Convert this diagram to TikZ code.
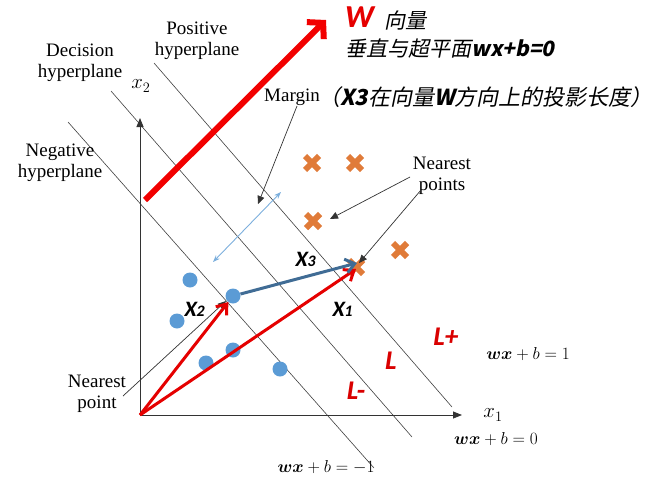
\documentclass[tikz,border=0pt]{standalone}
\usepackage{amsmath}
\usepackage{fontspec}
\setmainfont{Liberation Serif}
\newfontfamily\cjk[FakeSlant=0.2]{Noto Sans CJK SC}
\newfontfamily\lab[FakeSlant=0.15]{Carlito}
\usetikzlibrary{arrows.meta}
\definecolor{dotc}{HTML}{5B9BD5}
\definecolor{crossc}{HTML}{E07B39}
\begin{document}
\begin{tikzpicture}[x=1pt,y=-1pt,
  hyp/.style={draw=black!75,line width=0.6pt},
  txt/.style={font=\fontsize{19}{21}\selectfont,align=center,inner sep=0pt},
  eq/.style={font=\fontsize{19}{21}\selectfont,inner sep=0pt},
  redvec/.style={draw=red!90!black,line width=3pt,-{Straight Barb[length=9pt,width=14pt]}},
  bluevec/.style={draw=dotc!70!black,line width=3pt,-{Straight Barb[length=9pt,width=14pt]}},
  ptr/.style={draw=black!80,line width=0.7pt,-{Triangle[length=8pt,width=7pt]}},
  dot/.style={circle,fill=dotc,draw=none,minimum size=15pt,inner sep=0pt},
  cross/.style={inner sep=0pt,minimum size=1pt},
  vlab/.style={font=\fontsize{22}{22}\lab\bfseries,inner sep=0pt},
  rlab/.style={font=\fontsize{27}{27}\lab\bfseries,text=red!85!black,inner sep=0pt},
  cn/.style={font=\fontsize{21}{24}\cjk,inner sep=0pt,anchor=west}]
\useasboundingbox (0,0) rectangle (672,482);
% hyperplanes
\coordinate (n1) at (68,122); \coordinate (n2) at (374,468);
\coordinate (d1) at (111,91); \coordinate (d2) at (412,437);
\coordinate (p1) at (154,63); \coordinate (p2) at (452,407);
\draw[hyp] (n1) -- (n2);
\draw[hyp] (d1) -- (d2);
\draw[hyp] (p1) -- (p2);
% axes
\coordinate (O) at (140,415);
\coordinate (ytop) at (140,118);
\coordinate (xend) at (462,415);
\draw[black!80,line width=0.8pt,-{Triangle[length=9pt,width=7pt]}] (O) -- (ytop);
\draw[black!80,line width=0.8pt,-{Triangle[length=9pt,width=7pt]}] (O) -- (xend);
\node[font=\fontsize{22}{22}\selectfont] (x2) at (141,86) {$x_2$};
\node[font=\fontsize{22}{22}\selectfont] (x1) at (493,415) {$x_1$};
% hyperplane labels
\node[txt] (neg) at (60,163) {Negative\\hyperplane};
\node[txt] (dec) at (80,63) {Decision\\hyperplane};
\node[txt] (pos) at (197,41) {Positive\\hyperplane};
\node[txt,anchor=east] (mar) at (320,97) {Margin};
\node[txt] (np) at (442,176) {Nearest\\points};
\node[txt] (npt) at (97,394) {Nearest\\point};
% W vector
\coordinate (w0) at (145,200); \coordinate (w1) at (326,20);
\draw[draw=red!95!black,line width=6pt,-{Straight Barb[length=11pt,width=24pt]}] (w0) -- (w1);
\node[font=\fontsize{32}{32}\lab\bfseries,text=red!90!black,inner sep=0pt] (W) at (358,17) {W};
\node[cn] (wl) at (384,20) {向量};
\node[cn] (perp) at (345,49) {垂直与超平面\textbf{wx+b=0}};
\node[cn,font=\fontsize{22}{24}\cjk] (proj) at (318,97) {（\textbf{X3}在向量\textbf{W}方向上的投影长度）};
% points
\node[dot] (b1) at (190,280) {};
\node[dot] (b2) at (177,321) {};
\node[dot] (b3) at (233,350) {};
\node[dot] (b4) at (206,363) {};
\node[dot] (b5) at (280,369) {};
\node[dot] (b6) at (233,296) {};
\node[cross] (c1) at (312,163) {};
\node[cross] (c2) at (355,163) {};
\node[cross] (c3) at (313,221) {};
\node[cross] (c4) at (400,250) {};
\node[cross] (c5) at (356,267) {};
\foreach \c in {c1,c2,c3,c4,c5}{
  \draw[crossc,line width=6pt] ([shift={(-7,-7)}]\c.center) -- ([shift={(7,7)}]\c.center);
  \draw[crossc,line width=6pt] ([shift={(-7,7)}]\c.center) -- ([shift={(7,-7)}]\c.center);
}
% margin double arrow
\coordinate (m1) at (213,262); \coordinate (m2) at (281,192);
\draw[dotc!80,line width=0.9pt,{Stealth[length=7pt]}-{Stealth[length=7pt]}] (m1) -- (m2);
% pointers
\coordinate (ms) at (297,106);
\coordinate (mt) at (258,204);
\draw[ptr] (ms) -- (mt);
\coordinate (ns1) at (410,177);
\coordinate (ns2) at (421,190);
\coordinate (nt1) at (330,219);
\coordinate (nt2) at (359,263);
\draw[ptr] (ns1) -- (nt1);
\draw[ptr] (ns2) -- (nt2);
\coordinate (ps) at (123,396);
\coordinate (pt) at (226,301);
\draw[ptr] (ps) -- (pt);
% vectors
\draw[redvec] (O) -- (b6);
\draw[redvec] (O) -- (356,269);
\draw[bluevec] (b6) -- (357,263);
\node[vlab] (X3) at (305,259) {X\fontsize{16}{16}\selectfont 3};
\node[vlab] (X2) at (194,309) {X\fontsize{16}{16}\selectfont 2};
\node[vlab] (X1) at (342,309) {X\fontsize{16}{16}\selectfont 1};
\node[rlab] (Lp) at (445,337) {L+};
\node[rlab] (L) at (390,361) {L};
\node[rlab] (Lm) at (355,391) {L-};
% equations
\node[eq] (e1) at (528,354) {$\boldsymbol{w}\boldsymbol{x}+b=1$};
\node[eq] (e0) at (496,439) {$\boldsymbol{w}\boldsymbol{x}+b=0$};
\node[eq] (em) at (326,467) {$\boldsymbol{w}\boldsymbol{x}+b=-1$};
\end{tikzpicture}
\end{document}
